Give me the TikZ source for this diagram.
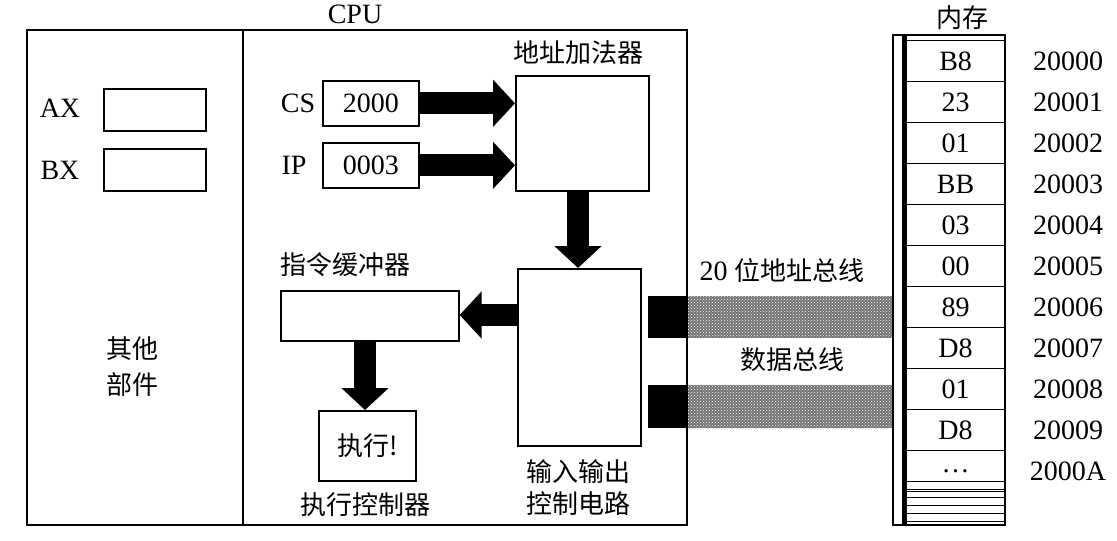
\documentclass[tikz,border=0pt]{standalone}
\usepackage{fontspec}
\setmainfont{Liberation Serif}
\newfontfamily\cjk{Noto Sans CJK SC}
\usetikzlibrary{arrows.meta,patterns,positioning}
\begin{document}
\begin{tikzpicture}[x=1pt,y=-1pt,
  box/.style={draw,line width=1.6pt,inner sep=0pt,anchor=north west},
  lbl/.style={font=\fontsize{28}{30}\selectfont},
  clbl/.style={font=\cjk\fontsize{26}{30}\selectfont},
  big/.style={line width=22pt,-{Triangle[length=22pt,width=46pt]}},
  cell/.style={draw,line width=1.2pt,minimum width=100pt,minimum height=41pt,inner sep=0pt,anchor=north west,font=\fontsize{28}{30}\selectfont}]
\useasboundingbox (0,0) rectangle (1117,541);
% outer CPU
\draw[line width=1.8pt] (27,30) rectangle (687,525);
\draw[line width=1.8pt] (243,30) -- (243,525);
\node[lbl] (cpu) at (355,14) {CPU};
% left part
\node[lbl] (ax) at (60,108) {AX};
\node[box,minimum width=102pt,minimum height=42pt] (axb) at (103,88) {};
\node[lbl] (bx) at (60,170) {BX};
\node[box,minimum width=102pt,minimum height=42pt] (bxb) at (103,148) {};
\node[clbl,align=center] (other) at (132,367) {其他\\[6pt]部件};
% registers
\node[lbl] (cs) at (298,103) {CS};
\node[box,minimum width=96pt,minimum height=45pt,lbl] (csb) at (322,80) {2000};
\node[lbl] (ip) at (294,165) {IP};
\node[box,minimum width=96pt,minimum height=45pt,lbl] (ipb) at (322,142) {0003};
% adder
\node[box,minimum width=133pt,minimum height=115pt] (add) at (515,75) {};
\node[clbl] (addl) at (578,53) {地址加法器};
\draw[big] (csb.east) -- (csb.east -| add.west);
\draw[big] (ipb.east) -- (ipb.east -| add.west);
% IO
\node[box,minimum width=123pt,minimum height=177pt] (io) at (517,268) {};
\node[clbl,align=center] (iol) at (578,488) {输入输出\\[2pt]控制电路};
\draw[big] (add.south -| 578,0) -- (578,268);
% buffer
\node[box,minimum width=178pt,minimum height=50pt] (buf) at (280,290) {};
\node[clbl] (bufl) at (345,265) {指令缓冲器};
\draw[big] (io.west |- 0,315) -- (buf.east |- 0,315);
% exec
\node[box,minimum width=97pt,minimum height=70pt,font=\cjk\fontsize{26}{28}\selectfont] (ex) at (318,410) {执行!};
\node[clbl] (exl) at (365,505) {执行控制器};
\draw[big] (buf.south -| 365,0) -- (ex.north -| 365,0);
% buses
\fill (648,296) rectangle (688,338);
\fill (648,385) rectangle (688,428);
\fill[gray!90!black] (688,296) rectangle (893,338);
\fill[gray!90!black] (688,385) rectangle (893,428);
\fill[pattern=crosshatch dots,pattern color=white] (688,296) rectangle (893,338);
\fill[pattern=crosshatch dots,pattern color=white] (688,385) rectangle (893,428);
\node[lbl] (ab) at (782,270) {20 {\cjk\fontsize{26}{30}\selectfont 位地址总线}};
\node[clbl] (db) at (792,360) {数据总线};
% memory
\node[clbl] (mem) at (962,18) {内存};
\draw[line width=1.2pt] (893,35) rectangle (903,525);
\draw[line width=3pt] (905,35) -- (905,525);
\draw[line width=1.2pt] (905,35) rectangle (1005,525);
\foreach \v/\a [count=\i from 0] in {B8/20000,23/20001,01/20002,BB/20003,03/20004,00/20005,89/20006,D8/20007,01/20008,D8/20009,\dots/2000A}{
  \node[cell] (c\i) at (905,{40+41*\i}) {\v};
  \node[lbl] (a\i) at (1068,{61+41*\i}) {\a};
}
\foreach \yy in {481,489,497,505,513,521} \draw[line width=1pt] (905,\yy) -- (1005,\yy);
\end{tikzpicture}
\end{document}
